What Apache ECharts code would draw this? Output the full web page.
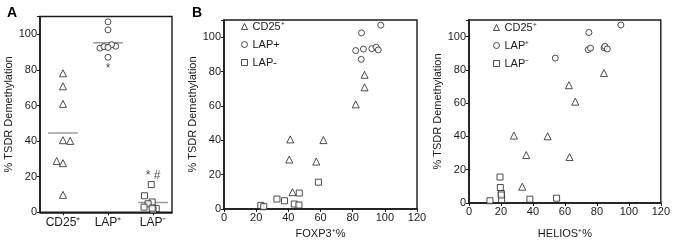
<!DOCTYPE html>
<html>
<head>
<meta charset="utf-8">
<script src="https://cdn.jsdelivr.net/npm/echarts@6/dist/echarts.min.js"></script>
<style>
  html, body { margin: 0; padding: 0; background: #fff; }
  #chart { width: 673px; height: 244px; }
</style>
</head>
<body>
<div id="chart"></div>
<script>
// categories of panel A
const groups = ['CD25⁺', 'LAP⁺', 'LAP⁻'];
const legendFoxp3 = ['CD25⁺', 'LAP+', 'LAP-'];
const legendHelios = ['CD25⁺', 'LAP⁺', 'LAP⁻'];

// % TSDR demethylation per sample, with FOXP3+% and HELIOS+% of the same sample
const cd25Demeth = [78.1, 70.8, 60.9, 40.5, 40.1, 28.8, 27.6, 9.8];
const cd25Foxp3  = [87.4, 87.4, 81.9, 41.2, 61.8, 40.6, 57.4, 42.6];
const cd25Helios = [84.4, 62.5, 66.5, 28.1, 49.2, 35.8, 62.9, 33.3];
const cd25Jitter = [0, 0, 0, 0, 0.16, -0.14, 0, 0];

const lapPosDemeth = [107, 102.5, 92.2, 93.1, 87.1, 93.3, 94.2, 92.6];
const lapPosFoxp3  = [97.5, 85.5, 81.9, 86.7, 85.3, 91.9, 94.6, 95.9];
const lapPosHelios = [95, 75, 74.5, 76, 54, 84.5, 85, 86.5];
const lapPosJitter = [0, 0, -0.18, -0.09, 0, 0.17, 0.08, 0];

const lapNegDemeth = [2.1, 1.35, 5.8, 4.8, 2.9, 9.3, 2.3, 15.6];
const lapNegFoxp3  = [22.9, 24.7, 32.9, 37.6, 43.7, 46.8, 46.6, 58.7];
const lapNegHelios = [20.4, 13.1, 20.2, 20.2, 54.8, 19.6, 38.1, 19.4];
const lapNegJitter = [0.07, 0, -0.02, -0.11, -0.2, -0.19, -0.02, -0.04];

// significance marks in panel A
const noteGroup = [1, 2];
const noteY = [80.5, 20.5];
const noteText = ['*', '* #'];

const yTicks = [0, 20, 40, 60, 80, 100];

const FONT = 'Liberation Sans, Arial, sans-serif';
const INK = '#1a1a1a';
const symbols = ['triangle', 'circle', 'rect'];
const symbolSizes = [7, 6, 6];

const demeth = [cd25Demeth, lapPosDemeth, lapNegDemeth];
const foxp3 = [cd25Foxp3, lapPosFoxp3, lapNegFoxp3];
const helios = [cd25Helios, lapPosHelios, lapNegHelios];
const jitter = [cd25Jitter, lapPosJitter, lapNegJitter];

function markerStyle() {
    return { color: '#fff', borderColor: '#222', borderWidth: 1 };
}

function yAxisFor(gridIndex, nameGap) {
    return {
        type: 'value', gridIndex: gridIndex, min: 0, max: 110, interval: 20,
        name: '% TSDR Demethylation', nameLocation: 'middle', nameGap: nameGap,
        nameTextStyle: { fontFamily: FONT, fontSize: 11, color: INK },
        axisLine: { show: true, onZero: false, lineStyle: { color: INK, width: 1.6 } },
        axisTick: { show: true, length: 3, lineStyle: { color: INK } },
        axisLabel: {
            fontFamily: FONT, fontSize: 11, color: INK, margin: 3,
            formatter: v => (yTicks.indexOf(v) >= 0 ? String(v) : '')
        },
        splitLine: { show: false }
    };
}

function xValueAxis(gridIndex, name, nameGap) {
    return {
        type: 'value', gridIndex: gridIndex, min: 0, max: 120, interval: 20,
        name: name, nameLocation: 'middle', nameGap: nameGap,
        nameTextStyle: { fontFamily: FONT, fontSize: 11, color: INK },
        axisLine: { show: true, onZero: false, lineStyle: { color: INK, width: 1.6 } },
        axisTick: { show: true, length: 3, lineStyle: { color: INK } },
        axisLabel: { fontFamily: FONT, fontSize: 11, color: INK, margin: 3 },
        splitLine: { show: false }
    };
}

const series = [];

// panel A: dot plot with jitter and mean lines
groups.forEach((g, i) => {
    series.push({
        name: 'A ' + g, type: 'scatter', xAxisIndex: 0, yAxisIndex: 0,
        symbol: symbols[i], symbolSize: symbolSizes[i],
        itemStyle: markerStyle(),
        data: demeth[i].map((v, k) => [i + jitter[i][k], v])
    });
    const mean = demeth[i].reduce((s, v) => s + v, 0) / demeth[i].length;
    series.push({
        name: 'A mean ' + g, type: 'line', xAxisIndex: 0, yAxisIndex: 0,
        symbol: 'none', silent: true, z: 1,
        lineStyle: { color: '#9a9a9a', width: 1.5 },
        data: [[i - 0.33, mean], [i + 0.33, mean]]
    });
});

series.push({
    name: 'A notes', type: 'scatter', xAxisIndex: 0, yAxisIndex: 0,
    symbol: 'circle', symbolSize: 1, silent: true, z: 5,
    itemStyle: { color: 'transparent' },
    label: {
        show: true, position: 'inside', fontFamily: FONT, fontSize: 12, color: INK,
        formatter: p => noteText[p.dataIndex]
    },
    data: noteGroup.map((g, k) => [g, noteY[k]])
});

// panel B: demethylation vs FOXP3+% and HELIOS+%
[foxp3, helios].forEach((xs, p) => {
    const names = p === 0 ? legendFoxp3 : legendHelios;
    groups.forEach((g, i) => {
        series.push({
            name: names[i], type: 'scatter', xAxisIndex: p + 1, yAxisIndex: p + 1,
            symbol: symbols[i], symbolSize: symbolSizes[i],
            itemStyle: markerStyle(),
            data: demeth[i].map((v, k) => [xs[i][k], v])
        });
    });
});

function legendAt(left, top, names) {
    return {
        left: left, top: top, orient: 'vertical', itemGap: 7,
        itemWidth: 6, itemHeight: 6, selectedMode: false,
        itemStyle: { color: '#fff', borderColor: '#222', borderWidth: 1 },
        textStyle: { fontFamily: FONT, fontSize: 11, color: INK },
        data: names.map((n, i) => ({ name: n, icon: symbols[i] }))
    };
}

const option = {
    animation: false,
    title: [
        { text: 'A', left: 2, top: 1, textStyle: { fontFamily: FONT, fontSize: 14, fontWeight: 'bold', color: '#000' } },
        { text: 'B', left: 187, top: 1, textStyle: { fontFamily: FONT, fontSize: 14, fontWeight: 'bold', color: '#000' } }
    ],
    legend: [legendAt(236, 16, legendFoxp3), legendAt(488, 17, legendHelios)],
    grid: [
        { left: 40, top: 16.5, width: 132, height: 195.8, show: true, borderColor: INK, borderWidth: 1.4, backgroundColor: 'transparent' },
        { left: 224, top: 20, width: 193, height: 190, show: true, borderColor: INK, borderWidth: 1.4, backgroundColor: 'transparent' },
        { left: 469, top: 20, width: 192, height: 190, show: true, borderColor: INK, borderWidth: 1.4, backgroundColor: 'transparent' }
    ],
    xAxis: [
        {
            type: 'value', gridIndex: 0, min: -0.51, max: 2.42,
            axisLine: { show: true, onZero: false, lineStyle: { color: INK, width: 1.6 } },
            axisTick: { show: true, length: 3, customValues: [0, 1, 2], lineStyle: { color: INK } },
            axisLabel: {
                fontFamily: FONT, fontSize: 12, color: INK, margin: 4,
                customValues: [0, 1, 2],
                formatter: v => groups[Math.round(v)]
            },
            splitLine: { show: false }
        },
        xValueAxis(1, 'FOXP3⁺%', 19),
        xValueAxis(2, 'HELIOS⁺%', 25)
    ],
    yAxis: [yAxisFor(0, 24), yAxisFor(1, 24), yAxisFor(2, 26)],
    series: series
};

const chart = echarts.init(document.getElementById('chart'), null, { renderer: 'canvas' });
chart.setOption(option);
</script>
</body>
</html>
